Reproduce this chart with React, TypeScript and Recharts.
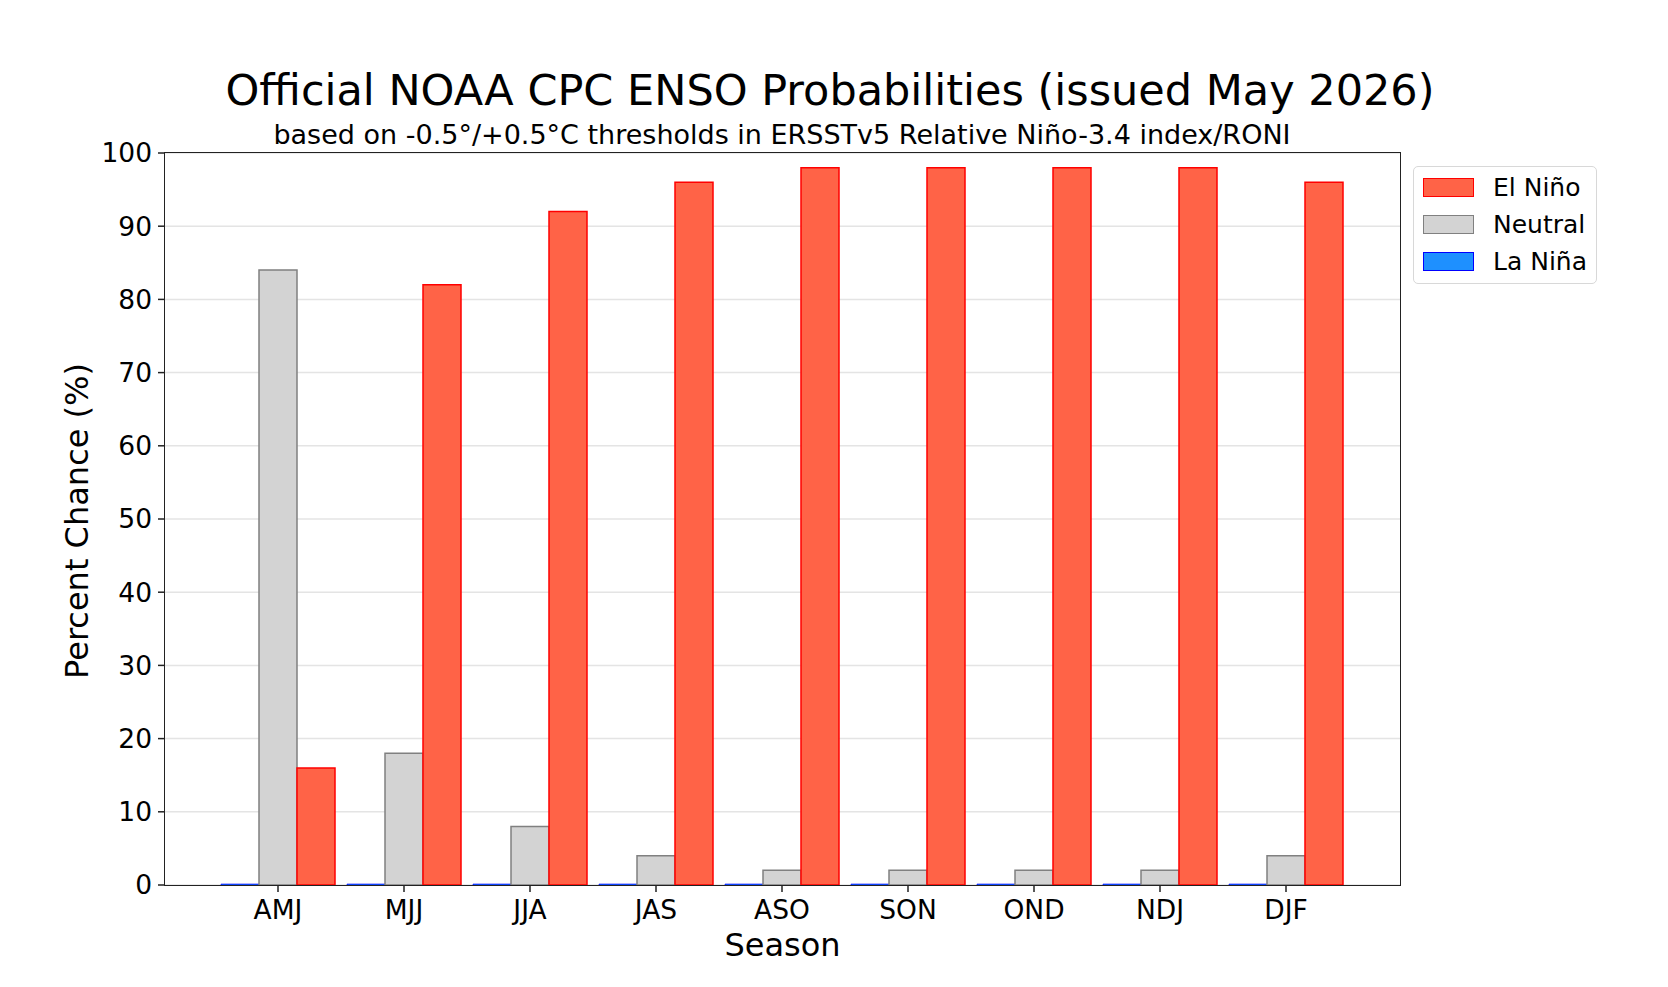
import { BarChart, Bar, XAxis, YAxis, CartesianGrid } from "recharts";

const seasons = ["AMJ", "MJJ", "JJA", "JAS", "ASO", "SON", "OND", "NDJ", "DJF"];
const laNina = [0, 0, 0, 0, 0, 0, 0, 0, 0];
const neutral = [84, 18, 8, 4, 2, 2, 2, 2, 4];
const elNino = [16, 82, 92, 96, 98, 98, 98, 98, 96];
const yTicks = [0, 10, 20, 30, 40, 50, 60, 70, 80, 90, 100];

const legendItems = [
  { name: "El Niño", fill: "#ff6347", stroke: "#ff0000" },
  { name: "Neutral", fill: "#d3d3d3", stroke: "#808080" },
  { name: "La Niña", fill: "#1e90ff", stroke: "#0000ff" },
];

const data = seasons.map((s, i) => ({
  season: s,
  laNina: laNina[i],
  neutral: neutral[i],
  elNino: elNino[i],
}));

const FONT = "'DejaVu Sans', sans-serif";
const W = 1668;
const H = 987;
const PLOT = { left: 165, top: 153, right: 1400, bottom: 885 };

export default function App() {
  const tick = { fill: "#000", fontSize: 26.5, fontFamily: FONT };
  return (
    <div style={{ position: "absolute", left: 0, top: 0, width: W, height: H, background: "#fff", fontFamily: FONT }}>
      <BarChart
        width={W}
        height={H}
        data={data}
        margin={{ top: PLOT.top, left: PLOT.left - 80, right: W - PLOT.right, bottom: H - PLOT.bottom - 40 }}
        barCategoryGap={6}
        barGap={0}
      >
        <CartesianGrid vertical={false} stroke="#e4e4e4" strokeWidth={1.5} />
        <XAxis
          dataKey="season"
          height={40}
          padding={{ left: 50, right: 51 }}
          tick={tick}
          tickSize={7}
          tickMargin={8}
          tickLine={{ stroke: "#222", strokeWidth: 1.5 }}
          axisLine={false}
        />
        <YAxis
          width={80}
          domain={[0, 100]}
          ticks={yTicks}
          tick={tick}
          tickSize={7}
          tickMargin={6}
          tickLine={{ stroke: "#222", strokeWidth: 1.5 }}
          axisLine={false}
          interval={0}
        />
        {/* all-zero series: minPointSize keeps matplotlib's flat outline on the baseline */}
        <Bar
          dataKey="laNina"
          fill="#1e90ff"
          stroke="#0000ff"
          strokeOpacity={0.6}
          strokeWidth={1}
          minPointSize={1}
          isAnimationActive={false}
        />
        <Bar dataKey="neutral" fill="#d3d3d3" stroke="#808080" strokeWidth={1.5} isAnimationActive={false} />
        <Bar dataKey="elNino" fill="#ff6347" stroke="#ff0000" strokeWidth={1.5} isAnimationActive={false} />
      </BarChart>

      {/* axes frame */}
      <div
        style={{
          position: "absolute",
          left: PLOT.left - 1,
          top: PLOT.top - 1,
          width: PLOT.right - PLOT.left,
          height: PLOT.bottom - PLOT.top,
          border: "1.5px solid #222",
          pointerEvents: "none",
        }}
      />

      <div style={{ position: "absolute", left: 0, width: 1660, top: 65, textAlign: "center", fontSize: 43, color: "#000" }}>
        Official NOAA CPC ENSO Probabilities (issued May 2026)
      </div>
      <div style={{ position: "absolute", left: 0, width: 1564, top: 119, textAlign: "center", fontSize: 27, color: "#000" }}>
        based on -0.5°/+0.5°C thresholds in ERSSTv5 Relative Niño-3.4 index/RONI
      </div>
      <div style={{ position: "absolute", left: PLOT.left, width: PLOT.right - PLOT.left, top: 926, textAlign: "center", fontSize: 32, color: "#000" }}>
        Season
      </div>
      <div
        style={{
          position: "absolute",
          left: 77,
          top: 521,
          transform: "translate(-50%, -50%) rotate(-90deg)",
          whiteSpace: "nowrap",
          fontSize: 32,
          color: "#000",
        }}
      >
        Percent Chance (%)
      </div>

      {/* legend */}
      <div
        style={{
          position: "absolute",
          left: 1413,
          top: 166,
          width: 184,
          height: 118,
          border: "1.5px solid #d8d8d8",
          borderRadius: 5,
          boxSizing: "border-box",
          background: "#fff",
        }}
      >
        {legendItems.map((it, i) => (
          <div key={it.name} style={{ position: "absolute", left: 9, top: 5 + i * 37, height: 30, display: "flex", alignItems: "center" }}>
            <div style={{ width: 51, height: 19, background: it.fill, border: `1.5px solid ${it.stroke}`, boxSizing: "border-box" }} />
            <span style={{ marginLeft: 19, fontSize: 25, color: "#000" }}>{it.name}</span>
          </div>
        ))}
      </div>
    </div>
  );
}
